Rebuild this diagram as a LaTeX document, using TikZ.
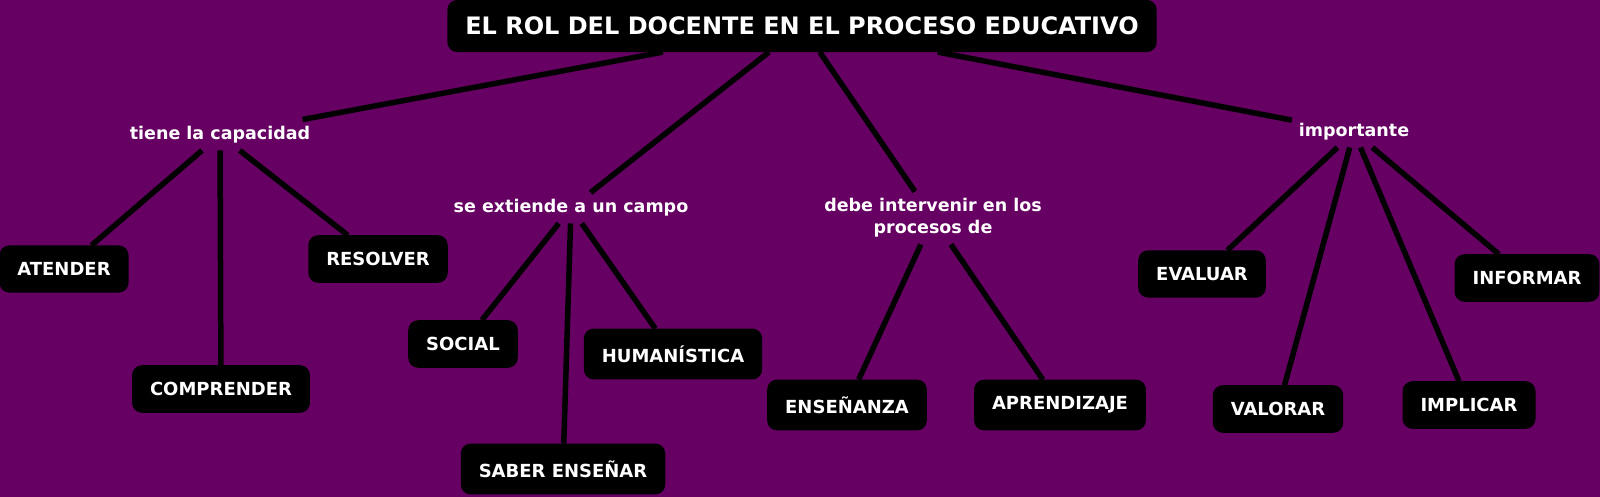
\documentclass[tikz,border=0pt]{standalone}
\usepackage{fontspec}
\setmainfont{DejaVu Sans}
\usepackage{xcolor}
\usetikzlibrary{positioning}
\definecolor{fondo}{RGB}{102,0,99}

\begin{document}
\begin{tikzpicture}[-, x=1pt, y=-1pt, line width=5.5pt,
		concepto/.style={fill=black, text=white, rounded corners=10pt, outer sep=0pt,
			inner xsep=18pt, inner ysep=17pt, font=\bfseries\fontsize{18}{21}\selectfont},
		titulo/.style={concepto, font=\bfseries\fontsize{24}{28}\selectfont},
		enlace/.style={text=white, outer sep=0pt, inner sep=7pt, align=center,
			font=\bfseries\fontsize{17.5}{22}\selectfont}]
			\fill[fondo] (0,0) rectangle (1600,497);
			\useasboundingbox (0,0) rectangle (1600,497);
			
			\node[titulo] (t0) at (802,26) {EL ROL DEL DOCENTE EN EL PROCESO EDUCATIVO};
			
			\node[enlace] (e1) at (220,135) {tiene la capacidad};
			\node[enlace] (e2) at (571,208) {se extiende a un campo};
			\node[enlace] (e3) at (933,218) {debe intervenir en los\\procesos de};
			\node[enlace] (e4) at (1354,132) {importante};
			
			\node[concepto] (c1) at (64,269) {ATENDER};
			\node[concepto] (c2) at (221,389) {COMPRENDER};
			\node[concepto] (c3) at (378,259) {RESOLVER};
			\node[concepto] (c4) at (463,344) {SOCIAL};
			\node[concepto] (c5) at (563,469) {SABER ENSEÑAR};
			\node[concepto] (c6) at (673,354) {HUMANÍSTICA};
			\node[concepto] (c7) at (847,405) {ENSEÑANZA};
			\node[concepto] (c8) at (1060,405) {APRENDIZAJE};
			\node[concepto] (c9) at (1202,274) {EVALUAR};
			\node[concepto] (c10) at (1278,409) {VALORAR};
			\node[concepto] (c11) at (1469,405) {IMPLICAR};
			\node[concepto] (c12) at (1527,278) {INFORMAR};
			
			\draw (t0) edge (e1);
			\draw (t0) edge (e2);
			\draw (t0) edge (e3);
			\draw (t0) edge (e4);
			
			\draw (e1) edge (c1);
			\draw (e1) edge (c2);
			\draw (e1) edge (c3);
			\draw (e2) edge (c4);
			\draw (e2) edge (c5);
			\draw (e2) edge (c6);
			\draw (e3) edge (c7);
			\draw (e3) edge (c8);
			\draw (e4) edge (c9);
			\draw (e4) edge (c10);
			\draw (e4) edge (c11);
			\draw (e4) edge (c12);
			
		\end{tikzpicture}
\end{document}
